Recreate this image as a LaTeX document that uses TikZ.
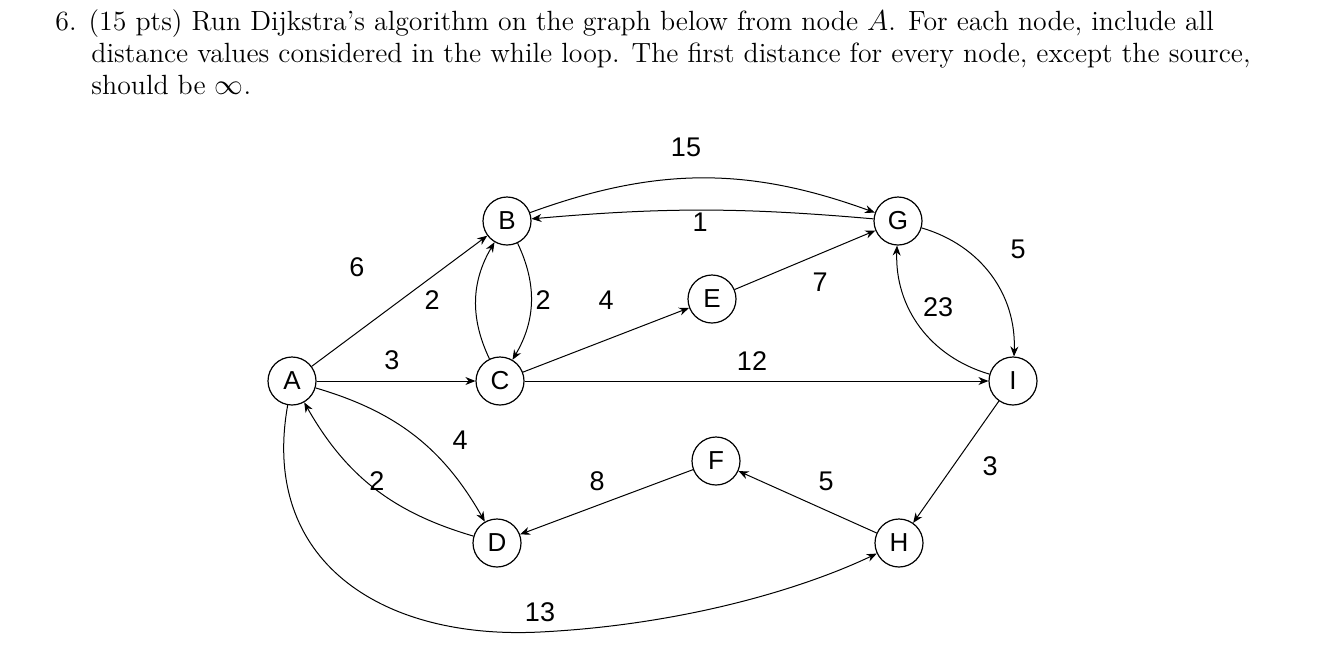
\documentclass[tikz,border=0pt]{standalone}
\usepackage{fontspec}
\setmainfont{Latin Modern Roman}
\newfontfamily\arialf{Liberation Sans}
\usetikzlibrary{arrows.meta}
\begin{document}
\begin{tikzpicture}[x=0.5pt,y=-0.5pt,
  vtx/.style={circle,draw,line width=0.6pt,minimum size=24pt,inner sep=0pt,font=\arialf\fontsize{13}{14}\selectfont},
  edge/.style={draw,line width=0.5pt,-{Stealth[length=5pt,width=4pt]}},
  wt/.style={font=\arialf\fontsize{13.5}{14}\selectfont}]
\useasboundingbox (0,0) rectangle (1320,660);
\node[anchor=north west,align=left,inner sep=0pt,font=\fontsize{13.9}{16}\selectfont] (hdr) at (55,9)
 {6. (15 pts) Run Dijkstra's algorithm on the graph below from node $A$. For each node, include all\\
 \hspace*{18pt}distance values considered in the while loop. The first distance for every node, except the source,\\
 \hspace*{18pt}should be $\infty$.};
\node[vtx] (A) at (292,381) {A};
\node[vtx] (B) at (507,221) {B};
\node[vtx] (C) at (500,381) {C};
\node[vtx] (D) at (497,543) {D};
\node[vtx] (E) at (712,299) {E};
\node[vtx] (F) at (716,461) {F};
\node[vtx] (G) at (898,221) {G};
\node[vtx] (H) at (899,543) {H};
\node[vtx] (I) at (1013,381) {I};
\path[edge] (A) -- (B);
\path[edge] (A) -- (C);
\path[edge] (A) to[bend left=22] (D);
\path[edge] (D) to[bend left=22] (A);
\path[edge] (A) .. controls (260,560) and (380,640) .. (540,632) .. controls (680,625) and (800,590) .. (H);
\path[edge] (C) to[bend left=28] (B);
\path[edge] (B) to[bend left=28] (C);
\path[edge] (C) -- (E);
\path[edge] (C) -- (I);
\path[edge] (E) -- (G);
\path[edge] (B) to[bend left=20] (G);
\path[edge] (G) to[bend right=5] (B);
\path[edge] (G) to[bend left=38] (I);
\path[edge] (I) to[bend left=38] (G);
\path[edge] (I) -- (H);
\path[edge] (H) -- (F);
\path[edge] (F) -- (D);
\node[wt] (w1) at (357,267) {6};
\node[wt] (w2) at (392,360) {3};
\node[wt] (w3) at (460,440) {4};
\node[wt] (w4) at (377,481) {2};
\node[wt] (w5) at (540,612) {13};
\node[wt] (w6) at (432,300) {2};
\node[wt] (w7) at (543,300) {2};
\node[wt] (w8) at (606,300) {4};
\node[wt] (w9) at (752,361) {12};
\node[wt] (w10) at (820,282) {7};
\node[wt] (w11) at (686,147) {15};
\node[wt] (w12) at (700,222) {1};
\node[wt] (w13) at (1018,249) {5};
\node[wt] (w14) at (938,307) {23};
\node[wt] (w15) at (990,466) {3};
\node[wt] (w16) at (826,481) {5};
\node[wt] (w17) at (597,481) {8};
\end{tikzpicture}
\end{document}
